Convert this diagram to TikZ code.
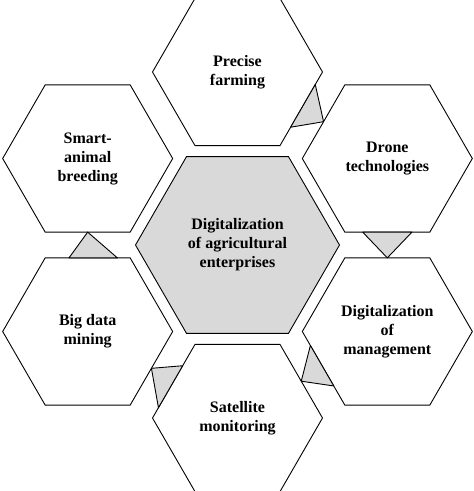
\documentclass[tikz,border=0pt]{standalone}
\usepackage{fontspec}
\setmainfont{Liberation Serif}
\usetikzlibrary{shapes.geometric,calc}

\definecolor{hexgray}{RGB}{217,217,217}

\tikzset{
  hexa/.style={regular polygon, regular polygon sides=6, draw=black, line width=0.9pt,
    minimum size=170pt, inner sep=0pt, outer sep=0pt, align=center,
    font=\fontsize{16}{19}\selectfont\bfseries},
  hexcore/.style={hexa, fill=hexgray, minimum size=204pt},
  tri/.style={fill=hexgray, draw=black, line width=0.9pt, line join=round},
}

\begin{document}
\begin{tikzpicture}[x=1pt,y=1pt]
    \useasboundingbox (-237.5,-246) rectangle (236.5,245);
    % centre and ring of hexagons
    \node[hexcore] (core)   at (0,0)      {Digitalization\\of agricultural\\enterprises};
    \node[hexa]    (farm)   at (90:173)   {Precise\\farming};
    \node[hexa]    (drone)  at (30:173)   {Drone\\technologies};
    \node[hexa]    (manage) at (-30:173)  {Digitalization\\of\\management};
    \node[hexa]    (sat)    at (-90:173)  {Satellite\\monitoring};
    \node[hexa]    (bigdata) at (210:173) {Big data\\mining};
    \node[hexa]    (smart)  at (150:173)  {Smart-\\animal\\breeding};
    % gray pointers between neighbours
    \filldraw[tri] ($(farm.0)!0.17!(farm.-60)$) -- (drone.150) -- ($(farm.0)!0.75!(farm.-60)$) -- cycle;
    \filldraw[tri] ($(drone.-120)!0.21!(drone.-60)$) -- (manage.90) -- ($(drone.-120)!0.79!(drone.-60)$) -- cycle;
    \filldraw[tri] ($(manage.180)!0.19!(manage.-120)$) -- (sat.30) -- ($(manage.180)!0.74!(manage.-120)$) -- cycle;
    \filldraw[tri] ($(sat.120)!0.29!(sat.180)$) -- (bigdata.-30) -- ($(sat.120)!0.86!(sat.180)$) -- cycle;
    \filldraw[tri] ($(bigdata.120)!0.28!(bigdata.60)$) -- (smart.-90) -- ($(bigdata.120)!0.85!(bigdata.60)$) -- cycle;
\end{tikzpicture}
\end{document}
